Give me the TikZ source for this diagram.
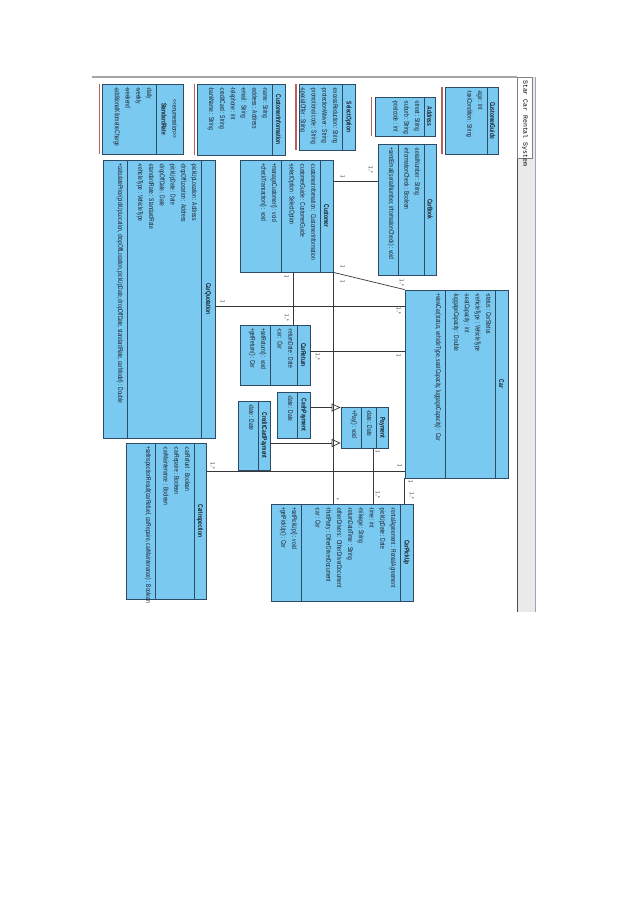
\documentclass[tikz,border=0pt]{standalone}
\usepackage{fontspec}
\usepackage{tikz}
\usetikzlibrary{arrows.meta, positioning}
\newfontfamily\umlfont[FakeStretch=0.7]{Liberation Sans}
\newfontfamily\titlefont{Liberation Mono}
\definecolor{umlfill}{RGB}{122,201,240}
\definecolor{umlline}{RGB}{45,75,100}
\definecolor{umltext}{RGB}{25,30,40}
\definecolor{markred}{RGB}{185,95,90}
\definecolor{connline}{RGB}{55,55,60}
\definecolor{framegray}{RGB}{165,165,165}
\definecolor{bandgray}{RGB}{234,234,236}
\definecolor{bandblue}{RGB}{150,165,190}

\begin{document}
\begin{tikzpicture}[
    x=1pt, y=-1pt,
    classbox/.style={rectangle, draw=umlline, fill=umlfill, line width=0.8pt, inner sep=0pt},
    divider/.style={draw=umlline, line width=0.7pt},
    cname/.style={rotate=-90, font=\umlfont\fontsize{7}{10.8}\selectfont\bfseries, text=umltext, inner sep=0pt, align=center},
    members/.style={rotate=-90, anchor=north west, font=\umlfont\fontsize{7}{10.8}\selectfont, text=umltext, inner sep=0pt, align=left},
    mult/.style={rotate=-90, font=\umlfont\fontsize{6}{7}\selectfont, text=umltext, inner sep=0pt},
    assoc/.style={draw=connline, line width=0.7pt},
    inherit/.style={draw=connline, line width=0.7pt, -{Triangle[open, length=9pt, width=8pt]}},
    redmark/.style={draw=markred, line width=1.3pt}
]

% Page and frame
\useasboundingbox (0,0) rectangle (638,902);
\fill[white] (0,0) rectangle (638,902);
\draw[framegray, line width=2pt] (92,77) -- (517,77);
\fill[bandgray] (517,77) rectangle (535,612);
\draw[black!70, line width=1pt] (517,77) -- (517,612);
\draw[bandblue, line width=1pt] (535,77) -- (535,612);
\draw[black!50, fill=white] (517,77) rectangle (532,158);
\node[rotate=-90, anchor=west, font=\titlefont\fontsize{6.5}{7}\selectfont, inner sep=0pt] (title) at (525,80) {Star Car Rental System};

% StandardRate
\draw[redmark] (99.5,84) -- (99.5,154);
\node[classbox, minimum width=81, minimum height=70] (staffrate) at (142.5,119) {};
\draw[divider] (156,84) -- (156,154);
\node[cname] at (169.5,119) {{\mdseries {<}{<}enumeration{>}{>}}\\StandardRate};
\node[members] at (152.5,87) {-daily\\-weekly\\-weekend\\-additionalKilometreCharge};

% CustomerInformation
\draw[redmark] (194.5,84) -- (194.5,155);
\node[classbox, minimum width=88, minimum height=71] (custinfo) at (241,119.5) {};
\draw[divider] (272,84) -- (272,155);
\node[cname] at (278.5,119.5) {CustomerInformation};
\node[members] at (268.5,87) {-name : String\\-address : Address\\-email : String\\-telephone : int\\-creditCard : String\\-bankName : String};

% SelectOption
\draw[redmark] (296,84) -- (296,150);
\node[classbox, minimum width=56, minimum height=66] (selectopt) at (327,117) {};
\draw[divider] (342,84) -- (342,150);
\node[cname] at (348.5,117) {SelectOption};
\node[members] at (338.5,87) {-excessReduction : String\\-protectionWaiver : String\\-promotional code : String\\-specialOffer : String};

% Address
\draw[redmark] (371.5,97) -- (371.5,136);
\node[classbox, minimum width=60, minimum height=39] (address) at (405,116.5) {};
\draw[divider] (424,97) -- (424,136);
\node[cname] at (429.5,116.5) {Address};
\node[members] at (420.5,100) {-street : String\\-suburb : String\\-postcode : int};

% CustomerGuide
\draw[redmark] (442,87) -- (442,154);
\node[classbox, minimum width=53, minimum height=67] (custguide) at (471.5,120.5) {};
\draw[divider] (487,87) -- (487,154);
\node[cname] at (492.5,120.5) {CustomerGuide};
\node[members] at (483.5,90) {-age : int\\-taxiCondition : String};

% CarBook
\node[classbox, minimum width=58, minimum height=131] (carbook) at (407,209.5) {};
\draw[divider] (424,144) -- (424,275);
\draw[divider] (398,144) -- (398,275);
\node[cname] at (430,209.5) {CarBook};
\node[members] at (420.5,147) {-serialNumber : String\\-informationCheck : Boolean};
\node[members] at (394.5,147) {+sendEmail(serialNumber, informationCheck) : void};

% Customer
\node[classbox, minimum width=93, minimum height=112] (customer) at (286.5,216) {};
\draw[divider] (320,160) -- (320,272);
\draw[divider] (281,160) -- (281,272);
\node[cname] at (326.5,216) {Customer};
\node[members] at (316.5,163) {-customerInformation : CustomerInformation\\-customerGuide : CustomerGuide\\-selectOption : SelectOption};
\node[members] at (277.5,163) {+manageCustomer() : void\\+checkTransaction() : void};

% CarQuotation
\node[classbox, minimum width=112, minimum height=278] (carquot) at (159,299) {};
\draw[divider] (201,160) -- (201,438);
\draw[divider] (127,160) -- (127,438);
\node[cname] at (208,299) {CarQuotation};
\node[members] at (197.5,163) {-pickUpLocation : Address\\-dropOffLocation : Address\\-pickUpDate : Date\\-dropOffDate : Date\\-standardRate : StandardRate\\-vehicleType : VehicleType};
\node[members] at (123.5,163) {+calculatePrice(pickUpLocation, dropOffLocation, pickUpDate, dropOffDate, standardRate, carModel) : Double};

% Car
\node[classbox, minimum width=103, minimum height=188] (car) at (456.5,384) {};
\draw[divider] (495,290) -- (495,478);
\draw[divider] (445,290) -- (445,478);
\node[cname] at (501.5,384) {Car};
\node[members] at (491.5,293) {-status : CarStatus\\-vehicleType : VehicleType\\-seatCapacity : int\\-luggageCapacity : Double};
\node[members] at (441.5,293) {+viewCar(status, vehicleType, seatCapacity, luggageCapacity) : Car};

% CarReturn
\node[classbox, minimum width=70, minimum height=60] (carreturn) at (275,355) {};
\draw[divider] (297,325) -- (297,385);
\draw[divider] (270,325) -- (270,385);
\node[cname] at (303.5,355) {CarReturn};
\node[members] at (293.5,328) {-returnDate : Date\\-car : Car};
\node[members] at (266.5,328) {+setReturn() : void\\+getReturn() : Car};

% CashPayment
\node[classbox, minimum width=33, minimum height=46] (cashpay) at (293.5,415) {};
\draw[divider] (297,392) -- (297,438);
\node[cname] at (303.5,415) {CashPayment};
\node[members] at (293.5,395) {-date : Date};

% CreditCardPayment
\node[classbox, minimum width=32, minimum height=69] (creditpay) at (254,435.5) {};
\draw[divider] (258,401) -- (258,470);
\node[cname] at (264,435.5) {CreditCardPayment};
\node[members] at (254.5,404) {-date : Date};

% Payment
\node[classbox, minimum width=47, minimum height=41] (payment) at (364.5,427.5) {};
\draw[divider] (376,407) -- (376,448);
\draw[divider] (361,407) -- (361,448);
\node[cname] at (382,427.5) {Payment};
\node[members] at (372.5,410) {-date : Date};
\node[members] at (357.5,410) {+Pay() : void};

% CarInspection
\node[classbox, minimum width=80, minimum height=156] (carinsp) at (166,521) {};
\draw[divider] (194,443) -- (194,599);
\draw[divider] (155,443) -- (155,599);
\node[cname] at (200,521) {CarInspection};
\node[members] at (190.5,446) {-carRefuel : Boolean\\-carRepaire : Boolean\\-carMaintenance : Boolean};
\node[members] at (151.5,446) {+setInspectionResult(carRefuel, carRepaire, carMaintenance) : Boolean};

% CarPickUp
\node[classbox, minimum width=142, minimum height=97] (carpickup) at (342,552.5) {};
\draw[divider] (400,504) -- (400,601);
\draw[divider] (301,504) -- (301,601);
\node[cname] at (406.5,552.5) {CarPickUp};
\node[members] at (396.5,507) {-rentalAgreement : RentalAgreement\\-pickUpDate : Date\\-time : int\\-mileage : String\\-returnDateTime : String\\-otherDrivers : OtherDriverDocument\\-thirdParty : OtherDriverDocument\\-car : Car};
\node[members] at (297.5,507) {+setPickUp() : void\\+getPickUp() : Car};

% Associations
\draw[assoc] (customer.east |- 0,181) -- (carbook.west |- 0,181);
\node[mult] at (343,177) {1};
\node[mult] at (371,170) {1..*};

\draw[assoc] (customer.south east) -- (car.north west);
\node[mult] at (343,267) {1};
\node[mult] at (402,283) {1..*};

\draw[assoc] (customer.south -| 293,0) -- (carreturn.north -| 293,0);
\node[mult] at (287,277) {1};
\node[mult] at (287,318) {1..*};

\draw[assoc] (customer.south east) -- (carpickup.north -| customer.east);
\node[mult] at (343,282) {1};
\node[mult] at (337,499) {*};

\draw[assoc] (carquot.east |- 0,306) -- (car.west |- 0,306);
\node[mult] at (223,302) {1};
\node[mult] at (399,311) {1..*};

\draw[assoc] (carreturn.east |- 0,351) -- (car.west |- 0,351);
\node[mult] at (318,357) {1..*};
\node[mult] at (399,356) {1};

\draw[assoc] (carinsp.east |- 0,471) -- (car.west |- 0,471);
\node[mult] at (213,466) {1..*};
\node[mult] at (400,466) {1};

\draw[assoc] (payment.south -| 373,0) -- (carpickup.north -| 373,0);
\node[mult] at (378,452) {1};
\node[mult] at (378,495) {1..*};

\draw[assoc] (car.south west) -- (carpickup.north -| car.west);
\node[mult] at (411,482) {1};
\node[mult] at (412,496) {1..*};

% Generalisation
\draw[inherit] (cashpay.east |- 0,407.5) -- (payment.west |- 0,407.5);
\draw[inherit] (creditpay.east |- 0,443) -- (payment.west |- 0,443);

\end{tikzpicture}
\end{document}
